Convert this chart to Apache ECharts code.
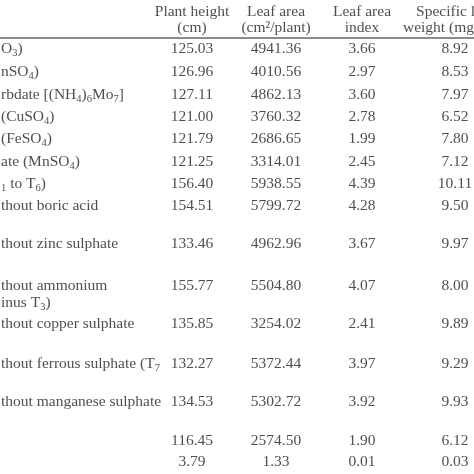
<!DOCTYPE html>
<html><head><meta charset="utf-8">
<script src="https://cdn.jsdelivr.net/npm/echarts@6/dist/echarts.min.js"></script>
<style>html,body{margin:0;padding:0;background:#fff}#c{width:474px;height:474px}</style>
</head><body><div id="c"></div>
<script>
// data
const treatments = ["O{s|3})","nSO{s|4})","rbdate [(NH{s|4}){s|6}Mo{s|7}]","(CuSO{s|4})","(FeSO{s|4})","ate (MnSO{s|4})","{s|1} to T{s|6})","thout boric acid","thout zinc sulphate","thout ammonium\ninus T{s|3})","thout copper sulphate","thout ferrous sulphate (T{s|7}","thout manganese sulphate","",""];
const plantHeight = ["125.03","126.96","127.11","121.00","121.79","121.25","156.40","154.51","133.46","155.77","135.85","132.27","134.53","116.45","3.79"];
const leafArea = ["4941.36","4010.56","4862.13","3760.32","2686.65","3314.01","5938.55","5799.72","4962.96","5504.80","3254.02","5372.44","5302.72","2574.50","1.33"];
const leafAreaIndex = ["3.66","2.97","3.60","2.78","1.99","2.45","4.39","4.28","3.67","4.07","2.41","3.97","3.92","1.90","0.01"];
const specificLeafWeight = ["8.92","8.53","7.97","6.52","7.80","7.12","10.11","9.50","9.97","8.00","9.89","9.29","9.93","6.12","0.03"];
const headers = ["Plant height\n(cm)","Leaf area\n(cm²/plant)","Leaf area\nindex","Specific leaf\nweight (mg/cm²)"];
// layout
const rowY = [49,72,95,117,139,162,184,206,244,286,324,364,402,441,462];
const colX = [192,276,362,455];
const font = {fontFamily:"Liberation Serif, Times New Roman, serif", fontSize:15.5, color:"#222"};
const rich = {s:{fontFamily:font.fontFamily,fontSize:10.5,color:"#222",padding:[8,0,0,0]}};
function col(vals, x, align, vAlign, offY){
  return {type:'scatter',symbolSize:0,silent:true,
    data: vals.map((v,i)=>({value:[x,rowY[i]],label:{formatter:v}})),
    label:{show:true,position:'inside',align:align,verticalAlign:vAlign||'middle',offset:[0,offY||0],lineHeight:17,...font,rich}};
}
const chart = echarts.init(document.getElementById('c'));
chart.setOption({
  animation:false,
  grid:{left:0,right:0,top:0,bottom:0},
  xAxis:{type:'value',min:0,max:474,show:false},
  yAxis:{type:'value',min:0,max:474,inverse:true,show:false},
  series:[
    col(treatments,1,'left','top',-8.5),
    col(plantHeight,colX[0],'center'),
    col(leafArea,colX[1],'center'),
    col(leafAreaIndex,colX[2],'center'),
    col(specificLeafWeight,colX[3],'center'),
    {type:'scatter',symbolSize:0,silent:true,
     data:headers.map((h,i)=>({value:[colX[i],20],label:{formatter:h}})),
     label:{show:true,position:'inside',align:'center',verticalAlign:'middle',lineHeight:16,...font},
     markLine:{silent:true,symbol:'none',label:{show:false},lineStyle:{color:'#666',width:1.5,type:'solid'},
       data:[{yAxis:38}]}}
  ]
});
</script></body></html>
